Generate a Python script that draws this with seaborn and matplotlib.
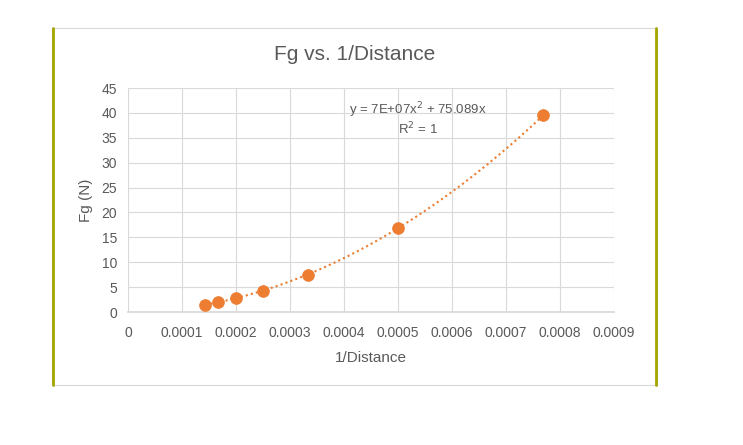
import numpy as np
import pandas as pd
import matplotlib
matplotlib.use("Agg")
import matplotlib.pyplot as plt
import seaborn as sns
from matplotlib.patches import Rectangle
from matplotlib.lines import Line2D

inv_distance = [1 / 7000, 1 / 6000, 1 / 5000, 1 / 4000, 1 / 3000, 1 / 2000, 1 / 1300]
fg = [1.4, 2.0, 2.8, 4.3, 7.5, 16.9, 39.5]
x_ticks = [0, 0.0001, 0.0002, 0.0003, 0.0004, 0.0005, 0.0006, 0.0007, 0.0008, 0.0009]
x_tick_labels = ["0", "0.0001", "0.0002", "0.0003", "0.0004", "0.0005", "0.0006", "0.0007", "0.0008", "0.0009"]
y_ticks = [0, 5, 10, 15, 20, 25, 30, 35, 40, 45]

ORANGE = "#ED7D31"
TEXT = "#595959"
GRID = "#D9D9D9"

sns.set_theme(style="white")
plt.rcParams["font.family"] = ["Liberation Sans", "DejaVu Sans"]

df = pd.DataFrame({"x": inv_distance, "y": fg})

fig = plt.figure(figsize=(7.43, 4.45), dpi=100)
# chart frame with olive side edges
fig.add_artist(Rectangle((52 / 743, 1 - 385 / 445), 605 / 743, 357 / 445,
                         transform=fig.transFigure, fill=False, edgecolor="#D9D9D9", lw=0.8))
for xp in (53, 656):
    fig.add_artist(Line2D([xp / 743, xp / 743], [1 - 385 / 445, 1 - 28 / 445],
                          transform=fig.transFigure, color="#A5A500", lw=2))

ax = fig.add_axes([128 / 743, 1 - 312 / 445, 486 / 743, 224 / 445])

# polynomial trendline through origin (order 2)
X = np.column_stack([df["x"] ** 2, df["x"]])
coef, *_ = np.linalg.lstsq(X, df["y"], rcond=None)
xs = np.linspace(df["x"].min(), df["x"].max(), 200)
ax.plot(xs, coef[0] * xs ** 2 + coef[1] * xs, color=ORANGE, lw=1.5, ls=(0, (1, 1.5)), zorder=2)

sns.scatterplot(data=df, x="x", y="y", ax=ax, color=ORANGE, s=70, edgecolor=ORANGE, zorder=3)

ax.set_xlim(0, 0.0009)
ax.set_ylim(0, 45)
ax.set_xticks(x_ticks)
ax.set_xticklabels(x_tick_labels)
ax.set_yticks(y_ticks)
ax.grid(True, color=GRID, lw=0.8)
ax.set_axisbelow(True)
for side in ("top", "right", "left"):
    ax.spines[side].set_visible(False)
ax.spines["bottom"].set_color(GRID)
ax.tick_params(axis="both", length=0, colors=TEXT, labelsize=10)
ax.tick_params(axis="x", pad=10)
ax.tick_params(axis="y", pad=8)
ax.set_xlabel("1/Distance", color=TEXT, fontsize=11, labelpad=8)
ax.set_ylabel("Fg (N)", color=TEXT, fontsize=11, labelpad=6)

fig.text(355 / 743, 1 - 55 / 445, "Fg vs. 1/Distance", color=TEXT, fontsize=15, ha="center", va="center")
ax.text(0.000537, 40.6, "y = 7E+07x$^2$ + 75.089x", color=TEXT, fontsize=9.5, ha="center", va="center")
ax.text(0.000537, 36.8, "R$^2$ = 1", color=TEXT, fontsize=9.5, ha="center", va="center")

fig.savefig("out.png", dpi=100)
